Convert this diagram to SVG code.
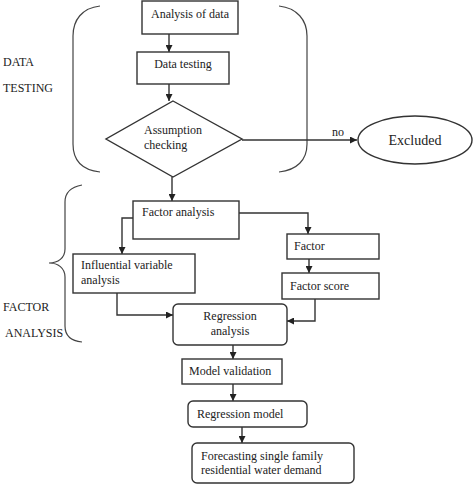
<svg xmlns="http://www.w3.org/2000/svg" width="474" height="485" viewBox="0 0 474 485" font-family="'Liberation Serif', 'Times New Roman', Times, serif" font-size="12">
<defs>
<marker id="ah" markerUnits="userSpaceOnUse" markerWidth="8" markerHeight="7" refX="7" refY="3.5" orient="auto">
<path d="M0,0 L7,3.5 L0,7 z" fill="#222"/>
</marker>
<style>
text{fill:#222}
.box{fill:#fff;stroke:#333;stroke-width:1.4}
.ln{fill:none;stroke:#333;stroke-width:1.4}
.br{fill:none;stroke:#444;stroke-width:1.2}
.c{text-anchor:middle}
</style>
</defs>
<rect width="474" height="485" fill="#fff"/>
<g id="labels">
<text x="3" y="66">DATA</text>
<text x="3" y="92">TESTING</text>
<text x="3" y="311">FACTOR</text>
<text x="5" y="337">ANALYSIS</text>
<path class="br" d="M100,6 C82,8 73,20 73,36 L73,144 C73,160 82,170 100,172"/>
<path class="br" d="M279,6 C297,8 307,20 307,36 L307,144 C307,160 297,170 279,172"/>
<path class="br" d="M82,185 C71,187 65,193 65,202 L65,249 C65,258 58,263 49,263 C58,263 65,268 65,277 L65,326 C65,336 72,341 82,342"/>
</g>
<g id="connectors">
<line class="ln" x1="169" y1="34" x2="169" y2="52" marker-end="url(#ah)"/>
<line class="ln" x1="169" y1="84" x2="169" y2="101" marker-end="url(#ah)"/>
<line class="ln" x1="242" y1="140" x2="357" y2="140" marker-end="url(#ah)"/>
<text x="332" y="136">no</text>
<line class="ln" x1="172" y1="177" x2="172" y2="201" marker-end="url(#ah)"/>
<polyline class="ln" points="133,218 122,218 122,254" marker-end="url(#ah)"/>
<polyline class="ln" points="239,213 308,213 308,234" marker-end="url(#ah)"/>
<line class="ln" x1="309" y1="259" x2="309" y2="273" marker-end="url(#ah)"/>
<polyline class="ln" points="117,293 117,315 173,315" marker-end="url(#ah)"/>
<polyline class="ln" points="315,299 315,321 287,321" marker-end="url(#ah)"/>
<line class="ln" x1="233" y1="345" x2="233" y2="359" marker-end="url(#ah)"/>
<line class="ln" x1="233" y1="384" x2="233" y2="401" marker-end="url(#ah)"/>
<line class="ln" x1="242" y1="427" x2="242" y2="443" marker-end="url(#ah)"/>
</g>
<g id="analysis-of-data">
<rect class="box" x="142" y="1" width="96" height="33"/>
<text x="190" y="18" class="c">Analysis of data</text>
</g>
<g id="data-testing">
<rect class="box" x="137" y="52" width="92" height="32"/>
<text x="183" y="68" class="c">Data testing</text>
</g>
<g id="assumption-checking">
<polygon class="box" points="173,101 242,139 173,177 106,139"/>
<text x="144" y="134">Assumption</text>
<text x="144" y="149">checking</text>
</g>
<g id="excluded">
<ellipse class="box" cx="415" cy="140" rx="57" ry="24"/>
<text x="415" y="145" class="c" font-size="14">Excluded</text>
</g>
<g id="factor-analysis">
<rect class="box" x="133" y="201" width="106" height="38"/>
<text x="142" y="216">Factor analysis</text>
</g>
<g id="influential">
<rect class="box" x="73" y="254" width="122" height="39"/>
<text x="81" y="269">Influential variable</text>
<text x="81" y="284">analysis</text>
</g>
<g id="factor">
<rect class="box" x="287" y="234" width="92" height="25"/>
<text x="294" y="250">Factor</text>
</g>
<g id="factor-score">
<rect class="box" x="282" y="273" width="97" height="26"/>
<text x="290" y="290">Factor score</text>
</g>
<g id="regression-analysis">
<rect class="box" x="173" y="304" width="114" height="41" rx="5"/>
<text x="230" y="320" class="c">Regression</text>
<text x="230" y="335" class="c">analysis</text>
</g>
<g id="model-validation">
<rect class="box" x="182" y="359" width="100" height="25"/>
<text x="189" y="375">Model validation</text>
</g>
<g id="regression-model">
<rect class="box" x="188" y="401" width="119" height="26" rx="5"/>
<text x="197" y="418">Regression model</text>
</g>
<g id="forecasting">
<rect class="box" x="192" y="443" width="162" height="40" rx="5"/>
<text x="201" y="460">Forecasting single family</text>
<text x="201" y="474">residential water demand</text>
</g>
</svg>
